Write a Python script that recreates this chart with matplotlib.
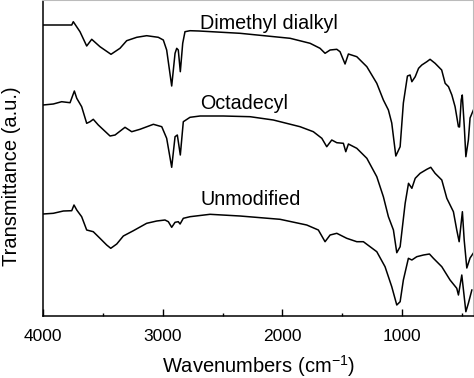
import matplotlib
matplotlib.use('Agg')
import matplotlib.pyplot as plt
from matplotlib.ticker import MultipleLocator

plt.rcParams['font.family'] = 'Liberation Sans'
plt.rcParams['mathtext.fontset'] = 'custom'
plt.rcParams['mathtext.rm'] = 'Liberation Sans'
plt.rcParams['mathtext.it'] = 'Liberation Sans'

# FTIR spectra (offset, arbitrary units)
wn_dimethyl = [4000, 3760, 3747, 3691, 3635, 3593, 3524, 3432, 3357, 3301, 3217, 3134, 3037,
               2995, 2967, 2925, 2897, 2883, 2870, 2853, 2833, 2814, 2772, 2697, 2354, 1936,
               1769, 1686, 1644, 1602, 1546, 1519, 1477, 1449, 1379, 1295, 1212, 1157, 1115,
               1087, 1053, 1017, 990, 956, 934, 919, 891, 863, 836, 794, 767, 725, 670, 641,
               613, 585, 558, 530, 521, 507, 498, 481, 468, 447, 433, 405]
t_dimethyl = [291, 291, 294.3, 284.3, 270, 276.7, 269.3, 261.7, 267.7, 275.3, 278.7, 280.3, 278.7,
              276, 266, 230, 262.7, 267.7, 266, 244.3, 272.7, 284.3, 285.3, 285, 282.7, 277.7,
              272.7, 267.7, 262.7, 266, 266.7, 264.3, 252, 262, 259.3, 249.3, 232.7, 216, 206,
              193, 160, 169.3, 213, 240, 241, 234.3, 239.3, 247.7, 251, 254.3, 256.7, 252.7, 246, 232.7,
              229.3, 221, 209.3, 189.3, 189, 216, 221, 189.3, 159.3, 176, 198, 206]

wn_octadecyl = [4000, 3914, 3844, 3774, 3738, 3718, 3677, 3635, 3607, 3580, 3538, 3440, 3398,
                3315, 3259, 3190, 3078, 3008, 2967, 2925, 2897, 2878, 2853, 2828, 2772, 2688,
                2494, 2270, 2076, 1853, 1742, 1671, 1630, 1588, 1546, 1491, 1471, 1449, 1379,
                1295, 1212, 1157, 1115, 1073, 1045, 1017, 975, 947, 919, 891, 850, 794, 761,
                725, 669, 627, 572, 544, 524, 497, 482, 460, 433, 405]
t_octadecyl = [211, 212, 214.3, 213.3, 225, 217.7, 209.3, 192.7, 194.3, 196.7, 191, 180, 181,
               188.7, 184.3, 186.7, 191.7, 189.3, 177.7, 148.7, 179.3, 181, 161, 194.3, 198.7, 200,
               200, 199.3, 196, 189.3, 184.3, 177.7, 169.3, 176, 173.3, 172.7, 164.3, 172, 167.7,
               157.7, 139.3, 119.3, 99.3, 86, 63.3, 69.3, 112.7, 132.7, 127.7, 137.7, 142.7, 146.7, 148.7,
               142.7, 136, 117.7, 104.3, 86, 74.3, 104.3, 76, 48, 58, 63]

wn_unmod = [4000, 3914, 3830, 3760, 3741, 3718, 3677, 3635, 3580, 3524, 3468, 3434, 3384,
            3329, 3245, 3134, 3050, 2981, 2953, 2925, 2897, 2870, 2855, 2828, 2772, 2605,
            2354, 2020, 1797, 1700, 1644, 1602, 1546, 1463, 1379, 1324, 1212, 1143, 1087,
            1045, 1017, 990, 948, 919, 878, 822, 772, 739, 669, 600, 544, 530, 502, 488,
            468, 447, 418]
t_unmod = [102, 102.7, 105, 105.3, 111, 106, 99.3, 86, 84.3, 77.7, 71, 67.7, 72,
           80, 85.3, 92.7, 95, 96, 94.3, 88.7, 93.7, 94.3, 92, 97.7, 99.3, 101.7,
           100, 96.7, 91, 86, 74.3, 81, 82.7, 77.7, 74.3, 74.3, 64.3, 49.3, 29.3,
           11, 14.3, 36, 57.7, 56, 59.3, 61, 62, 57.7, 49.3, 36, 27.7, 21, 41, 26,
           4.3, 12.7, 26]

labels = ['Dimethyl dialkyl', 'Octadecyl', 'Unmodified']
label_pos = [(2688, 287), (2688, 207), (2688, 111)]

fig = plt.figure(figsize=(4.74, 3.78), dpi=100)
ax = fig.add_axes([0.0907, 0.164, 0.9093, 0.836])

ax.plot(wn_dimethyl, t_dimethyl, color='black', lw=1.1)
ax.plot(wn_octadecyl, t_octadecyl, color='black', lw=1.1)
ax.plot(wn_unmod, t_unmod, color='black', lw=1.1)

for lab, (x, y) in zip(labels, label_pos):
    ax.text(x, y, lab, fontsize=14.2, ha='left', va='baseline')

ax.set_xlim(4000, 400)
ax.set_ylim(0, 316)
ax.xaxis.set_major_locator(MultipleLocator(1000))
ax.xaxis.set_minor_locator(MultipleLocator(500))
ax.tick_params(axis='x', which='major', direction='in', length=5, width=1, labelsize=12.5, pad=9)
ax.tick_params(axis='x', which='minor', direction='in', length=2.5, width=1)
ax.set_yticks([])

for s in ['left', 'bottom']:
    ax.spines[s].set_linewidth(1.1)
for s in ['top', 'right']:
    ax.spines[s].set_color('#bbbbbb')
    ax.spines[s].set_linewidth(1.5)

ax.set_xlabel(r'Wavenumbers (cm$^{-1}$)', fontsize=14.5, va='bottom')
ax.xaxis.set_label_coords(0.5, -0.2)
ax.set_ylabel('Transmittance (a.u.)', fontsize=14.5)
ax.yaxis.set_label_coords(-0.05, 0.443)

fig.savefig('out.png', dpi=100)
